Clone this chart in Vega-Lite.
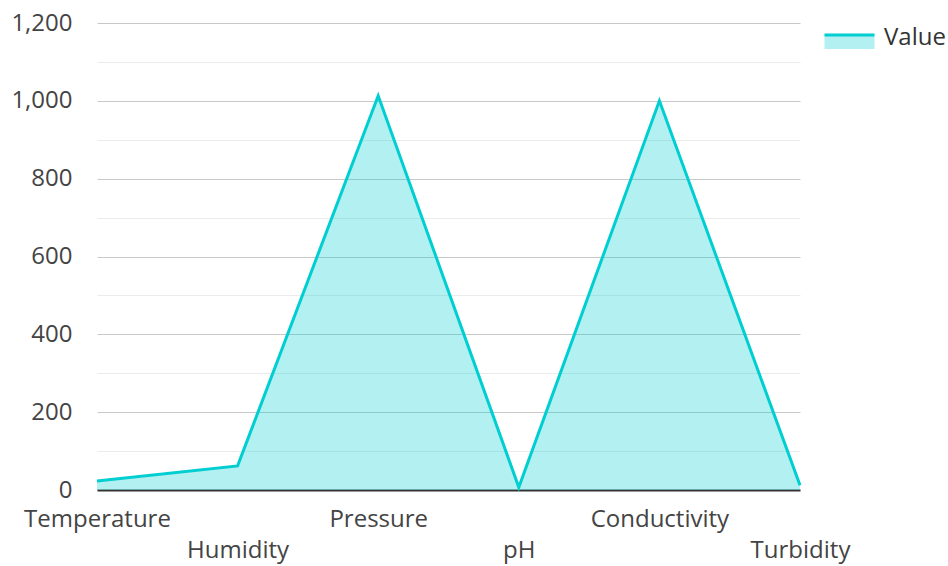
{
  "$schema": "https://vega.github.io/schema/vega-lite/v6.json",
  "width": 703,
  "height": 467,
  "autosize": {"type": "none"},
  "padding": {"left": 97, "top": 23, "right": 148, "bottom": 76},
  "background": "#ffffff",
  "config": {
    "font": "Open Sans",
    "view": {"stroke": null},
    "axis": {"labelFont": "Open Sans", "labelFontSize": 24, "labelColor": "#444444", "ticks": false, "title": null},
    "legend": {"labelFont": "Open Sans", "labelFontSize": 24, "labelColor": "#333333"}
  },
  "data": {
    "values": [
      {"parameter": "Temperature", "value": 23, "series": "Value"},
      {"parameter": "Humidity", "value": 62, "series": "Value"},
      {"parameter": "Pressure", "value": 1013, "series": "Value"},
      {"parameter": "pH", "value": 7, "series": "Value"},
      {"parameter": "Conductivity", "value": 1000, "series": "Value"},
      {"parameter": "Turbidity", "value": 12, "series": "Value"}
    ]
  },
  "encoding": {
    "x": {
      "field": "parameter",
      "type": "ordinal",
      "sort": null,
      "scale": {"type": "point", "padding": 0},
      "axis": {
        "labelAngle": 0,
        "domainColor": "#333333",
        "domainWidth": 2,
        "labelPadding": 17,
        "labelBaseline": "top",
        "labelLineHeight": 31,
        "labelExpr": "round(datum.index*5) % 2 ? ['', datum.label] : datum.label",
        "grid": false
      }
    },
    "y": {
      "field": "value",
      "type": "quantitative",
      "scale": {"domain": [0, 1200], "nice": false},
      "axis": {
        "values": [0, 100, 200, 300, 400, 500, 600, 700, 800, 900, 1000, 1100, 1200],
        "labelExpr": "datum.value % 200 === 0 ? datum.label : ''",
        "domain": false,
        "labelPadding": 25,
        "gridColor": {"condition": {"test": "datum.value % 200 === 0", "value": "#c8c8c8"}, "value": "#ebebeb"},
        "gridWidth": 1.2
      }
    }
  },
  "layer": [
    {
      "mark": {"type": "area", "fill": "#00ced1", "fillOpacity": 0.3}
    },
    {
      "mark": {"type": "line", "strokeWidth": 3},
      "encoding": {
        "stroke": {
          "field": "series",
          "type": "nominal",
          "scale": {"range": ["#00ced1"]},
          "legend": {
            "title": null,
            "orient": "none",
            "legendX": 726,
            "legendY": -12,
            "symbolType": "M-1,-0.1H1V0.46H-1Z",
            "symbolSize": 2500,
            "symbolFillColor": "#b2f0f1",
            "symbolStrokeWidth": 3,
            "symbolDash": [50, 1000],
            "symbolOpacity": 1,
            "labelOffset": 8
          }
        }
      }
    }
  ]
}
